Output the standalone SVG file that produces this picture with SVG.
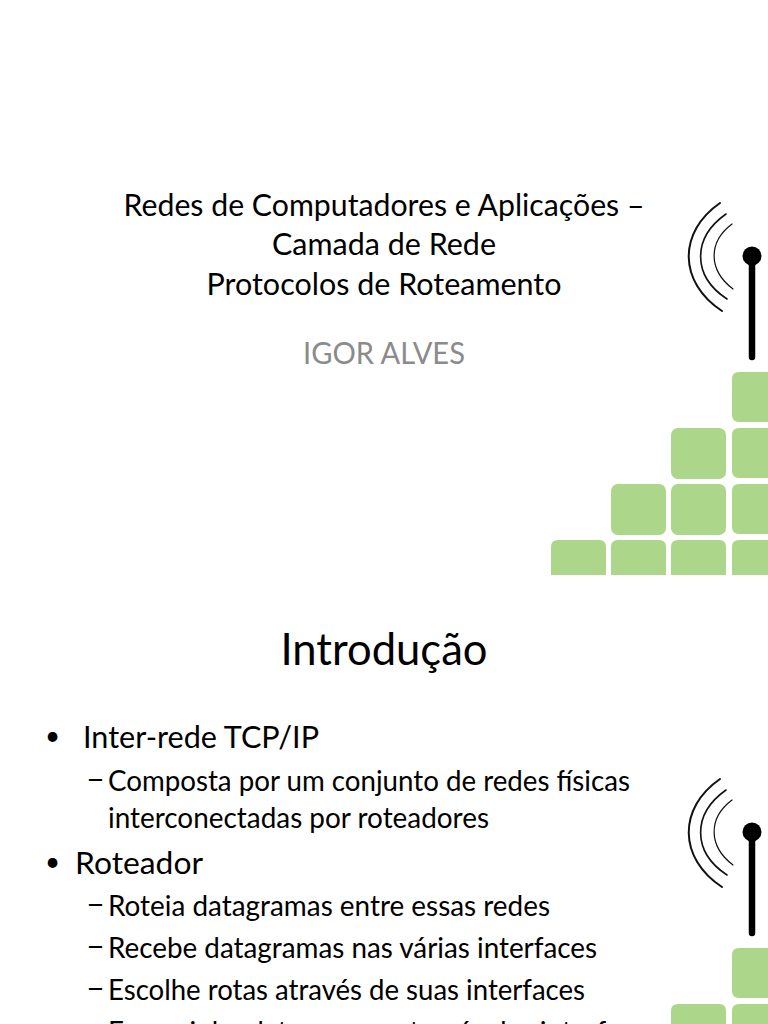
<svg xmlns="http://www.w3.org/2000/svg" width="768" height="1024" viewBox="0 0 768 1024">
<defs>
<style>
text{font-family:"Lato","Open Sans","Liberation Sans",sans-serif;fill:#000}
.t{font-size:31px;text-anchor:middle}
.b{font-size:31px}
.s{font-size:28px}
.d{font-size:26px}
.g{fill:#acd68a}
.w{fill:none;stroke:#111;stroke-linecap:round}
</style>
<g id="ant">
<path class="w" stroke-width="2" d="M720 203C678 232 678 282 722 311"/>
<path class="w" stroke-width="1.6" d="M726 214C692 238 692 276 727 299"/>
<path class="w" stroke-width="1.2" d="M732 224C708 242 708 270 733 289"/>
<circle cx="752" cy="256" r="9.5" fill="#000"/>
<path d="M752 256V357" stroke="#000" stroke-width="6.5" stroke-linecap="round"/>
</g>
</defs>
<rect width="768" height="1024" fill="#fff"/>
<g id="slide1">
<text class="t" x="384" y="215.700" textLength="521" lengthAdjust="spacingAndGlyphs">Redes de Computadores e Aplicações –</text>
<text class="t" x="384" y="254.700" textLength="224" lengthAdjust="spacingAndGlyphs">Camada de Rede</text>
<text class="t" x="384" y="294.700" textLength="355" lengthAdjust="spacingAndGlyphs">Protocolos de Roteamento</text>
<text class="t" x="384" y="364" textLength="162" lengthAdjust="spacingAndGlyphs" style="fill:#8b8b8b">IGOR ALVES</text>
<use href="#ant"/>
<g class="g">
<path d="M768 372H739Q732 372 732 379V415Q732 422 739 422H768Z"/>
<path d="M768 428H739Q732 428 732 435V471Q732 478 739 478H768Z"/>
<path d="M768 484H739Q732 484 732 491V527Q732 534 739 534H768Z"/>
<path d="M768 540H739Q732 540 732 547V575H768Z"/>
<rect x="671" y="428" width="55" height="51" rx="7"/>
<rect x="671" y="484" width="55" height="51" rx="7"/>
<path d="M671 575V547Q671 540 678 540H719Q726 540 726 547V575Z"/>
<rect x="611" y="484" width="55" height="51" rx="7"/>
<path d="M611 575V547Q611 540 618 540H659Q666 540 666 547V575Z"/>
<path d="M551 575V547Q551 540 558 540H599Q606 540 606 547V575Z"/>
</g>
</g>
<g id="slide2">
<text x="384" y="665" text-anchor="middle" font-size="44" textLength="207" lengthAdjust="spacingAndGlyphs">Introdução</text>
<text class="d" x="45" y="745">•</text>
<text class="b" x="83" y="747.500" textLength="236" lengthAdjust="spacingAndGlyphs">Inter-rede TCP/IP</text>
<text class="s" x="86" y="789" textLength="19" lengthAdjust="spacingAndGlyphs">–</text>
<text class="s" x="108" y="790.500" textLength="522" lengthAdjust="spacingAndGlyphs">Composta por um conjunto de redes físicas</text>
<text class="s" x="108" y="827.500" textLength="381" lengthAdjust="spacingAndGlyphs">interconectadas por roteadores</text>
<text class="d" x="45" y="871">•</text>
<text class="b" x="75" y="873.500" textLength="128" lengthAdjust="spacingAndGlyphs">Roteador</text>
<text class="s" x="86" y="914" textLength="19" lengthAdjust="spacingAndGlyphs">–</text>
<text class="s" x="108" y="915.500" textLength="442" lengthAdjust="spacingAndGlyphs">Roteia datagramas entre essas redes</text>
<text class="s" x="86" y="956" textLength="19" lengthAdjust="spacingAndGlyphs">–</text>
<text class="s" x="108" y="957.500" textLength="489" lengthAdjust="spacingAndGlyphs">Recebe datagramas nas várias interfaces</text>
<text class="s" x="86" y="998" textLength="19" lengthAdjust="spacingAndGlyphs">–</text>
<text class="s" x="108" y="999.500" textLength="477" lengthAdjust="spacingAndGlyphs">Escolhe rotas através de suas interfaces</text>
<text class="s" x="108" y="1041.500" textLength="552" lengthAdjust="spacingAndGlyphs">Encaminha datagramas através das interfaces</text>
<use href="#ant" y="576"/>
<g class="g">
<path d="M768 948H739Q732 948 732 955V991Q732 998 739 998H768Z"/>
<path d="M768 1004H739Q732 1004 732 1011V1024H768Z"/>
<path d="M671 1024V1011Q671 1004 678 1004H719Q726 1004 726 1011V1024Z"/>
</g>
</g>
</svg>
